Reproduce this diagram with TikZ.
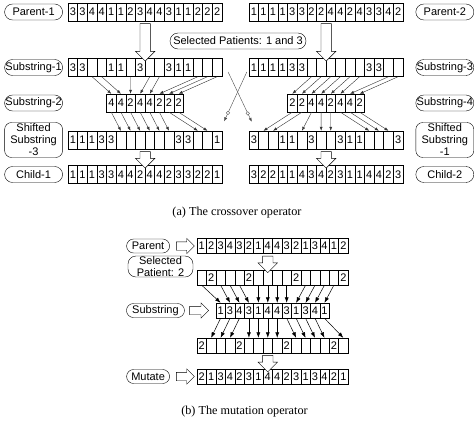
\documentclass[tikz,border=0pt]{standalone}
\usepackage{fontspec}
\setmainfont{Liberation Serif}
\setsansfont{Liberation Sans}
\usetikzlibrary{shapes,arrows,positioning,calc,arrows.meta,shapes.misc}
\tikzset{%
  cell/.style={%
    rectangle,
    draw=black,
    fill=white,
    inner sep=0pt,
    minimum width=9.62pt,
    minimum height=18pt,
    font=\sffamily\fontsize{11}{12}\selectfont
  },
  smallCell/.style={%
    cell,
    minimum width=9.44pt,
    minimum height=15pt
  },
  rowLabel/.style={%
    rectangle,
    rounded corners=8pt,
    draw=black,
    inner sep=0pt,
    minimum width=58pt,
    minimum height=16pt,
    align=center,
    font=\sffamily\fontsize{11}{12}\selectfont
  },
  mutLabel/.style={%
    rowLabel,
    rounded corners=7pt,
    minimum height=14pt,
    font=\sffamily\fontsize{11}{11.5}\selectfont
  },
  hollowArrow/.style={%
    single arrow,
    draw=black,
    fill=white,
    inner xsep=0pt,
    inner ysep=5pt,
    minimum width=19pt,
    single arrow head extend=4.5pt,
    single arrow head indent=0pt,
    sloped
  },
  moveLine/.style={%
    -{Latex[length=4pt,width=3pt]},
    line width=0.4pt,
    draw=black!80
  },
  mutLine/.style={%
    -{Latex[length=5.5pt,width=4pt]},
    line width=0.5pt
  },
  crossLine/.style={%
    -{Latex[length=4pt,width=3pt]},
    line width=0.4pt,
    draw=black!70
  },
  openDot/.style={%
    circle,
    draw=black!70,
    fill=white,
    inner sep=0pt,
    minimum size=3.5pt
  },
  caption/.style={%
    font=\rmfamily\fontsize{12.2}{14}\selectfont
  }
}

\begin{document}
\begin{tikzpicture}[x=1pt, y=-1pt]
  \useasboundingbox (0,0) rectangle (474,424);

  % ---- crossover: cell rows
  \foreach \v [count=\i from 0] in {3,3,4,4,1,1,2,3,4,4,3,1,1,2,2,2}
    \node[cell] (pa1-\i) at (72.81+\i*9.62, 12) {\v};
  \foreach \v [count=\i from 0] in {1,1,1,1,3,3,2,2,4,4,2,4,3,3,4,2}
    \node[cell] (pa2-\i) at (253.81+\i*9.62, 12) {\v};
  \foreach \v [count=\i from 0] in {3,3,{},{},1,1,{},3,{},{},3,1,1,{},{},{}}
    \node[cell] (sb1-\i) at (72.81+\i*9.62, 67.5) {\v};
  \foreach \v [count=\i from 0] in {1,1,1,1,3,3,{},{},{},{},{},{},3,3,{},{}}
    \node[cell] (sb3-\i) at (253.81+\i*9.62, 67.5) {\v};
  \foreach \v [count=\i from 0] in {4,4,2,4,4,2,2,2}
    \node[cell] (sb2-\i) at (111.31+\i*9.62, 103) {\v};
  \foreach \v [count=\i from 0] in {2,2,4,4,2,4,4,2}
    \node[cell] (sb4-\i) at (292.31+\i*9.62, 103) {\v};
  \foreach \v [count=\i from 0] in {1,1,1,3,3,{},{},{},{},{},{},3,3,{},{},1}
    \node[cell] (sh3-\i) at (72.81+\i*9.62, 140) {\v};
  \foreach \v [count=\i from 0] in {3,{},{},1,1,{},3,{},{},3,1,1,{},{},{},3}
    \node[cell] (sh1-\i) at (253.81+\i*9.62, 140) {\v};
  \foreach \v [count=\i from 0] in {1,1,1,3,3,4,4,2,4,4,2,3,3,2,2,1}
    \node[cell] (ch1-\i) at (72.81+\i*9.62, 174.5) {\v};
  \foreach \v [count=\i from 0] in {3,2,2,1,1,4,3,4,2,3,1,1,4,4,2,3}
    \node[cell] (ch2-\i) at (253.81+\i*9.62, 174.5) {\v};

  % ---- crossover: labels
  \node[rowLabel, left=5pt of pa1-0] (lbP1) {Parent-1};
  \node[rowLabel, left=5pt of sb1-0] (lbS1) {Substring-1};
  \node[rowLabel] (lbS2) at (lbS1 |- sb2-0) {Substring-2};
  \node[rowLabel, rounded corners=7pt, minimum height=35pt, left=5pt of sh3-0] (lbSh3) {Shifted\\Substring\\-3};
  \node[rowLabel, left=5pt of ch1-0] (lbC1) {Child-1};
  \node[rowLabel, right=12.5pt of pa2-15] (lbP2) {Parent-2};
  \node[rowLabel, right=12.5pt of sb3-15] (lbS3) {Substring-3};
  \node[rowLabel] (lbS4) at (lbS3 |- sb4-0) {Substring-4};
  \node[rowLabel, rounded corners=7pt, minimum height=35pt, right=12.5pt of sh1-15] (lbSh1) {Shifted\\Substring\\-1};
  \node[rowLabel, right=12.5pt of ch2-15] (lbC2) {Child-2};
  \node[rowLabel, minimum width=136pt] (lbSel) at (238, 41) {Selected Patients: 1 and 3};

  % ---- crossover: hollow arrows
  \path (pa1-7.south east) -- node[hollowArrow, minimum height=37.5pt] (arP1) {} (sb1-7.north east);
  \path (pa2-7.south east) -- node[hollowArrow, minimum height=37.5pt] (arP2) {} (sb3-7.north east);
  \path (sh3-7.south east) -- node[hollowArrow, minimum height=16.5pt] (arC1) {} (ch1-7.north east);
  \path (sh1-7.south east) -- node[hollowArrow, minimum height=16.5pt] (arC2) {} (ch2-7.north east);

  % ---- crossover: gene moves
  \foreach \a/\b in {2/0,3/1,6/2,8/3,9/4,13/5,14/6,15/7}
    \draw[moveLine] (sb1-\a.south) -- (sb2-\b.north);
  \foreach \a/\b in {0/5,1/6,2/7,3/8,4/9,5/10,6/13,7/14}
    \draw[moveLine] (sb2-\a.south) -- (sh3-\b.north);
  \foreach \a/\b in {6/0,7/1,8/2,9/3,10/4,11/5,14/6,15/7}
    \draw[moveLine] (sb3-\a.south) -- (sb4-\b.north);
  \foreach \a/\b in {0/1,1/2,2/5,3/7,4/8,5/12,6/13,7/14}
    \draw[moveLine] (sb4-\a.south) -- (sh1-\b.north);

  % swap of the kept substrings
  \draw[crossLine] ($(sb1-15.east)+(6,4.5)$) -- node[pos=0.83, openDot] (dotA) {} ($(sh1-0.north west)+(3,-9)$);
  \draw[crossLine] ($(sb3-0.west)+(-2,4.5)$) -- node[pos=0.83, openDot] (dotB) {} ($(sh3-15.north east)+(2,-9.5)$);

  \node[caption] (capA) at (237, 213) {(a) The crossover operator};

  % ---- mutation
  \foreach \v [count=\i from 0] in {1,2,3,4,3,2,1,4,4,3,2,1,3,4,1,2}
    \node[smallCell] (mp-\i) at (201.72+\i*9.44, 246) {\v};
  \foreach \v [count=\i from 0] in {{},2,{},{},{},2,{},{},{},{},2,{},{},{},{},2}
    \node[smallCell] (ms-\i) at (201.72+\i*9.44, 277.5) {\v};
  \foreach \v [count=\i from 0] in {1,3,4,3,1,4,4,3,1,3,4,1}
    \node[smallCell] (mb-\i) at (220.6+\i*9.44, 310.5) {\v};
  \foreach \v [count=\i from 0] in {2,{},{},{},2,{},{},{},{},2,{},{},{},{},2,{}}
    \node[smallCell] (mk-\i) at (201.72+\i*9.44, 345.5) {\v};
  \foreach \v [count=\i from 0] in {2,1,3,4,2,3,1,4,4,2,3,1,3,4,2,1}
    \node[smallCell] (mu-\i) at (201.72+\i*9.44, 376.5) {\v};

  \node[mutLabel, minimum width=43pt, left=27pt of mp-0] (lbPar) {Parent};
  \node[mutLabel, minimum width=65pt, minimum height=21pt, rounded corners=8pt] (lbPat) at (160.5, 266.5) {Selected\\Patient: 2};
  \node[mutLabel, left=31pt of mb-0] (lbSub) {Substring};
  \node[mutLabel, minimum width=43pt, left=27pt of mu-0] (lbMut) {Mutate};

  \path (lbPar.east) -- node[hollowArrow, inner ysep=4pt, minimum width=15pt, single arrow head extend=3.5pt, minimum height=18pt] (arPar) {} (mp-0.west);
  \path (lbSub.east) -- node[pos=0.4, hollowArrow, inner ysep=4pt, minimum width=15pt, single arrow head extend=3.5pt, minimum height=19pt] (arSub) {} (mb-0.west);
  \path (lbMut.east) -- node[hollowArrow, inner ysep=4pt, minimum width=15pt, single arrow head extend=3.5pt, minimum height=18pt] (arMut) {} (mu-0.west);
  \path (mp-7.south) -- node[hollowArrow, minimum height=16.5pt] (arSel) {} (ms-7.north);
  \path (mk-7.south) -- node[hollowArrow, minimum height=16.5pt] (arNew) {} (mu-7.north);

  \foreach \a/\b in {0/0,2/1,3/2,4/3,6/4,7/5,8/6,9/7,11/8,12/9,13/10,14/11}
    \draw[mutLine] (ms-\a.south) -- (mb-\b.north);
  \foreach \a/\b in {0/1,1/2,2/3,3/5,4/6,5/7,6/8,7/10,8/11,9/12,10/13,11/15}
    \draw[mutLine] (mb-\a.south) -- (mk-\b.north);

  \node[caption] (capB) at (244.5, 412) {(b) The mutation operator};
\end{tikzpicture}
\end{document}
